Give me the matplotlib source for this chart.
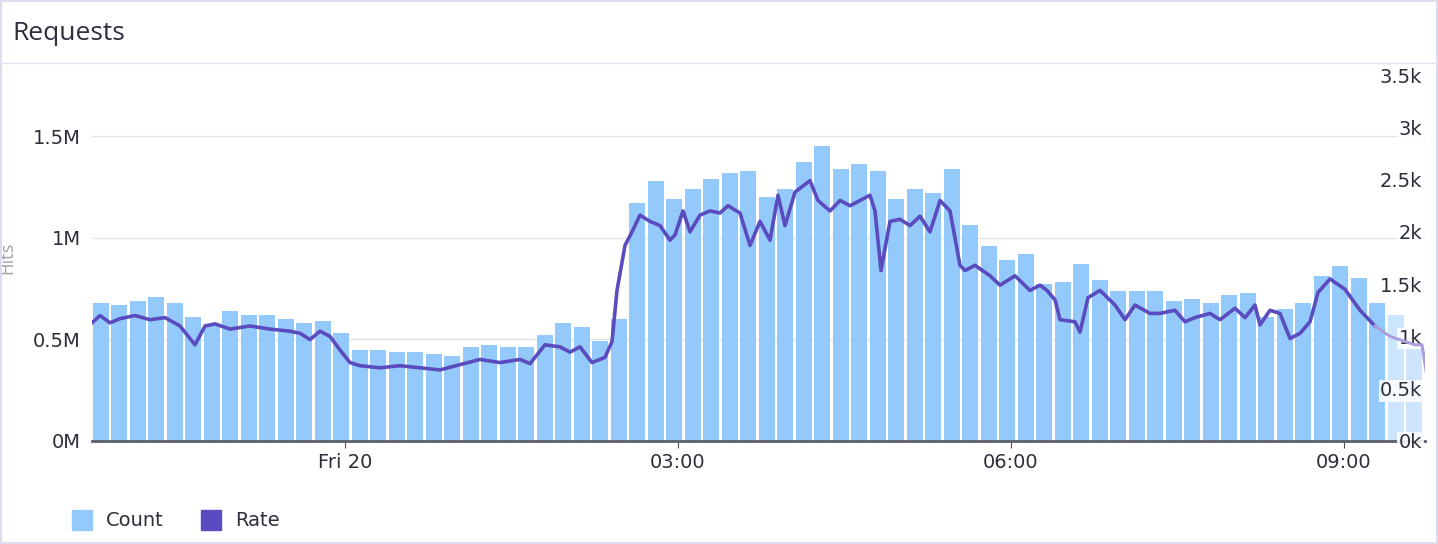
import matplotlib
matplotlib.use("Agg")
from matplotlib import pyplot as plt
from matplotlib.patches import Rectangle
from matplotlib.lines import Line2D

# bar counts (millions), 10-minute buckets starting at -2.2 h from Fri 00:00
count_m = [0.68, 0.67, 0.69, 0.71, 0.68, 0.61, 0.57, 0.64, 0.62, 0.62,
           0.60, 0.58, 0.59, 0.53, 0.45, 0.45, 0.44, 0.44, 0.43, 0.42,
           0.46, 0.47, 0.46, 0.46, 0.52, 0.58, 0.56, 0.49, 0.60, 1.17,
           1.28, 1.19, 1.24, 1.29, 1.32, 1.33, 1.20, 1.24, 1.37, 1.45,
           1.34, 1.36, 1.33, 1.19, 1.24, 1.22, 1.34, 1.06, 0.96, 0.89,
           0.92, 0.77, 0.78, 0.87, 0.79, 0.74, 0.74, 0.74, 0.69, 0.70,
           0.68, 0.72, 0.73, 0.61, 0.65, 0.68, 0.81, 0.86, 0.80, 0.68,
           0.62, 0.46, 0.19]
n_partial = 3  # last buckets still filling in

# rate line (k/s), sampled by pixel position x
rate_px = [92, 100, 110, 120, 135, 150, 165, 180, 195, 205, 215, 230, 250, 270, 290, 300,
           310, 320, 330, 340, 350, 360, 380, 400, 420, 440, 460, 480, 500, 520,
           530, 545, 560, 570, 580, 592, 605, 612, 617, 625, 632, 640, 650, 660,
           670, 675, 683, 690, 700, 710, 720, 728, 740, 750, 760, 770, 778, 785,
           795, 810, 818, 830, 840, 850, 860, 870, 875, 881, 890, 900, 910, 920,
           930, 940, 950, 960, 965, 975, 990, 1000, 1015, 1030, 1040, 1047, 1055,
           1060, 1075, 1080, 1088, 1100, 1115, 1125, 1135, 1150, 1160, 1175, 1185,
           1195, 1210, 1220, 1235, 1245, 1255, 1260, 1270, 1280, 1290, 1300, 1310,
           1318, 1330, 1345, 1360, 1375]
rate_k = [1.13, 1.20, 1.13, 1.17, 1.20, 1.16, 1.18, 1.10, 0.92, 1.10, 1.12, 1.07, 1.10, 1.07, 1.05, 1.03,
          0.97, 1.05, 1.00, 0.87, 0.75, 0.72, 0.70, 0.72, 0.70, 0.68, 0.73, 0.78, 0.75, 0.78,
          0.74, 0.92, 0.90, 0.85, 0.90, 0.75, 0.80, 0.95, 1.44, 1.87, 2.00, 2.16, 2.10, 2.06,
          1.92, 1.97, 2.20, 2.00, 2.16, 2.20, 2.18, 2.25, 2.18, 1.87, 2.10, 1.92, 2.35, 2.06,
          2.38, 2.49, 2.30, 2.20, 2.30, 2.25, 2.30, 2.35, 2.20, 1.63, 2.10, 2.12, 2.06, 2.15,
          2.00, 2.30, 2.20, 1.68, 1.63, 1.68, 1.58, 1.49, 1.58, 1.44, 1.49, 1.44, 1.35,
          1.16, 1.14, 1.04, 1.37, 1.44, 1.30, 1.16, 1.30, 1.22, 1.22, 1.25, 1.14,
          1.18, 1.22, 1.16, 1.27, 1.18, 1.30, 1.11, 1.25, 1.22, 0.98, 1.03, 1.14,
          1.42, 1.55, 1.45, 1.25, 1.10]
faded_px = [1375, 1390, 1415, 1422, 1428]
faded_k = [1.10, 1.00, 0.92, 0.92, 0.55]

x_ticks = [0, 3, 6, 9]
x_labels = ["Fri 20", "03:00", "06:00", "09:00"]


def px_to_h(x):
    return (x - 345) / 111.0


fig = plt.figure(figsize=(14.38, 5.44), dpi=100)
fig.patch.set_facecolor("white")
# outer frame + title separator
fig.add_artist(Rectangle((0.001, 0.001), 0.998, 0.997, transform=fig.transFigure,
                         fill=False, edgecolor="#dcdcf0", lw=1.5))
fig.add_artist(Line2D([0, 1], [1 - 63 / 544] * 2, transform=fig.transFigure,
                      color="#e2e2ee", lw=1))
fig.text(12 / 1438, 1 - 33 / 544, "Requests", fontsize=19, color="#2a2f3a",
         va="center", family="Open Sans")

ax = fig.add_axes([92 / 1438, 1 - 441 / 544, 1333 / 1438, 366 / 544])
ax2 = ax.twinx()

bar_x = [-2.2 + i / 6 for i in range(len(count_m))]
colors = ["#94cafb"] * (len(count_m) - n_partial) + ["#cce5fd"] * n_partial
ax.bar(bar_x, count_m, width=0.145, color=colors, zorder=2)

ax2.plot([px_to_h(x) for x in rate_px], rate_k, color="#5a4bbf", lw=2.6, zorder=3)
ax2.plot([px_to_h(x) for x in faded_px], faded_k, color="#aa9fdc", lw=2.2, zorder=3)

ax.set_xlim(px_to_h(92), px_to_h(1425))
ax.set_ylim(0, 1.8)
ax2.set_ylim(0, 3.5)

ax.set_yticks([0, 0.5, 1, 1.5])
ax.set_yticklabels(["0M", "0.5M", "1M", "1.5M"])
ax.grid(axis="y", color="#e3e3e8", lw=1, zorder=0)
ax.set_axisbelow(True)
ax.set_ylabel("Hits", color="#a0a4ad", fontsize=12, labelpad=12)

ax2.set_yticks([0, 0.5, 1, 1.5, 2, 2.5, 3, 3.5])
ax2.set_yticklabels(["0k", "0.5k", "1k", "1.5k", "2k", "2.5k", "3k", "3.5k"])
ax2.tick_params(axis="y", length=0, pad=-2, labelsize=14, labelcolor="#2a2f3a")
for lab in ax2.get_yticklabels():
    lab.set_horizontalalignment("right")
    lab.set_bbox(dict(facecolor="white", edgecolor="none", alpha=0.85, pad=1))

ax.set_xticks(x_ticks)
ax.set_xticklabels(x_labels)
ax.tick_params(axis="x", length=5, color="#4a4f5a", labelsize=14, labelcolor="#2a2f3a", pad=4)
ax.tick_params(axis="y", length=0, labelsize=14, labelcolor="#2a2f3a", pad=8)

for a in (ax, ax2):
    for s in ("top", "left", "right"):
        a.spines[s].set_visible(False)
ax.spines["bottom"].set_color("#5a5f6a")
ax.spines["bottom"].set_linewidth(2)
ax2.spines["bottom"].set_visible(False)

# legend
fig.add_artist(Rectangle((72 / 1438, 1 - 530 / 544), 20 / 1438, 20 / 544,
                         transform=fig.transFigure, color="#94cafb"))
fig.text(106 / 1438, 1 - 520 / 544, "Count", fontsize=14, color="#2a2f3a", va="center")
fig.add_artist(Rectangle((201 / 1438, 1 - 530 / 544), 20 / 1438, 20 / 544,
                         transform=fig.transFigure, color="#5a4bbf"))
fig.text(235 / 1438, 1 - 520 / 544, "Rate", fontsize=14, color="#2a2f3a", va="center")

fig.savefig("out.png", dpi=100)
